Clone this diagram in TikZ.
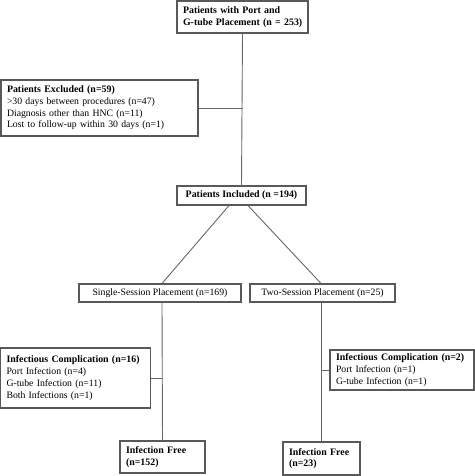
\documentclass[tikz,border=0pt]{standalone}
\usepackage{fontspec}
\setmainfont{Liberation Serif}
\newcommand{\bl}[1]{\mbox{\fontsize{9.9}{11.7}\selectfont\bfseries #1}}
\begin{document}
\begin{tikzpicture}[x=1pt,y=-1pt,
  box/.style={draw=black!65, line width=1.1pt, fill=white, inner xsep=6pt, inner ysep=0pt,
    align=left, font=\fontsize{9.75}{11.7}\selectfont},
  cbox/.style={draw=black!65, line width=1.1pt, fill=white, inner xsep=0pt, inner ysep=0pt,
    align=center, font=\fontsize{9.75}{11.7}\selectfont},
  link/.style={draw=black!60, line width=0.9pt}]
\useasboundingbox (0,0) rectangle (474,476);
\node[box, text width=119pt, minimum height=32pt] (top) at (242.5,17)
  {\bl{Patients with Port and}\\\bl{G-tube Placement (n = 253)}};
\node[box, text width=185pt, minimum height=56pt] (excl) at (99.5,108)
  {\bl{Patients Excluded (n=59)}\\\mbox{>30 days between procedures (n=47)}\\\mbox{Diagnosis other than HNC (n=11)}\\\mbox{Lost to follow-up within 30 days (n=1)}};
\node[cbox, minimum width=129pt, minimum height=19pt] (inc) at (241.5,195.5)
  {\bl{Patients Included (n =194)}};
\node[cbox, minimum width=162pt, minimum height=18pt] (single) at (160,293)
  {Single-Session Placement (n=169)};
\node[cbox, minimum width=145pt, minimum height=18pt] (two) at (322.5,293)
  {Two-Session Placement (n=25)};
\node[box, text width=138pt, minimum height=60pt] (infl) at (75.5,378)
  {\bl{Infectious Complication (n=16)}\\\mbox{Port Infection (n=4)}\\\mbox{G-tube Infection (n=11)}\\\mbox{Both Infections (n=1)}};
\node[box, text width=132pt, minimum height=40pt] (infr) at (402,370)
  {\bl{Infectious Complication (n=2)}\\\mbox{Port Infection (n=1)}\\\mbox{G-tube Infection (n=1)}};
\node[box, text width=73pt, minimum height=32pt] (freel) at (162.5,457)
  {\bl{Infection Free}\\\bl{(n=152)}};
\node[box, text width=65pt, minimum height=33pt] (freer) at (321.5,458.5)
  {\bl{Infection Free}\\\bl{(n=23)}};
\draw[link] (top.south) -- (inc.north);
\draw[link] (excl.east) -- (excl.east -| top.south);
\draw[link] ([xshift=-12.5pt]inc.south) -- ([xshift=2pt]single.north);
\draw[link] ([xshift=6.5pt]inc.south) -- ([xshift=-1.5pt]two.north);
\draw[link] ([xshift=2pt]single.south) -- (freel.north);
\draw[link] (infl.east) -- (infl.east -| freel.north);
\draw[link] ([xshift=-1pt]two.south) -- (freer.north);
\draw[link] (infr.west) -- (infr.west -| freer.north);
\end{tikzpicture}
\end{document}
